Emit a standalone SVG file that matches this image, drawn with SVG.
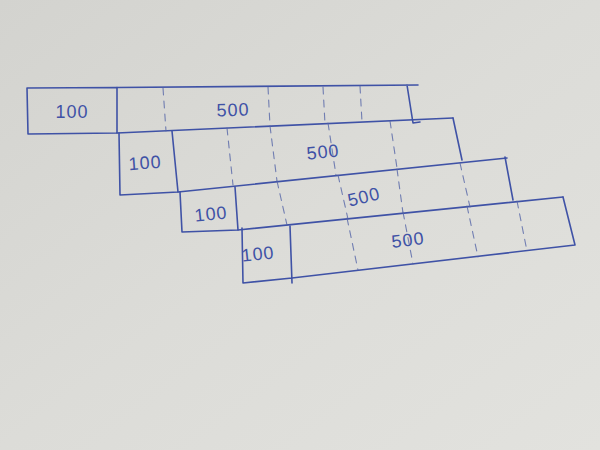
<svg xmlns="http://www.w3.org/2000/svg" width="600" height="450" viewBox="0 0 600 450">
  <defs>
    <linearGradient id="paper" x1="0" y1="0" x2="1" y2="1">
      <stop offset="0" stop-color="#d3d3cf"/>
      <stop offset="0.5" stop-color="#dcdcd8"/>
      <stop offset="1" stop-color="#e2e2de"/>
    </linearGradient>
    <style>
      .pen { fill: none; stroke: #3f52a6; stroke-width: 1.6; stroke-linecap: round; stroke-linejoin: round; }
      .dash { fill: none; stroke: #5565a8; stroke-width: 1.1; stroke-dasharray: 7 6; stroke-linecap: round; opacity: 0.8; }
      .lbl { font-family: "Liberation Sans", "DejaVu Sans", sans-serif; font-size: 18px; fill: #3f52a6; text-anchor: middle; dominant-baseline: central; letter-spacing: 1px; }
    </style>
  </defs>
  <rect width="600" height="450" fill="url(#paper)"/>

  <g id="row1">
    <g id="row1-100">
      <path class="pen" d="M27,88 L28,134 L117,133 M27,88 L117,87.5 L117,133"/>
      <text class="lbl" x="72" y="112">100</text>
    </g>
    <g id="row1-500">
      <path class="pen" d="M117,87.5 L418,85 M407,85 L413,123 L420,122"/>
      <path class="pen" d="M117,133 L453,118"/>
      <text class="lbl" x="233" y="110" transform="rotate(-2 233 110)">500</text>
    </g>
  </g>

  <g id="row2">
    <g id="row2-100">
      <path class="pen" d="M119,133 L120,195 L178,192 M172,131 L178,192"/>
      <text class="lbl" x="145" y="163" transform="rotate(-4 145 163)">100</text>
    </g>
    <g id="row2-500">
      <path class="pen" d="M453,118 L462,160"/>
      <path class="pen" d="M178,192 L507,158"/>
      <text class="lbl" x="323" y="152" transform="rotate(-6 323 152)">500</text>
    </g>
  </g>

  <g id="row3">
    <g id="row3-100">
      <path class="pen" d="M180,192 L182,232 L238,230 M235,187 L238,230"/>
      <text class="lbl" x="211" y="214" transform="rotate(-6 211 214)">100</text>
    </g>
    <g id="row3-500">
      <path class="pen" d="M505,157 L513,200"/>
      <path class="pen" d="M238,230 L563,197"/>
      <text class="lbl" x="364" y="197" transform="rotate(-14 364 197)">500</text>
    </g>
  </g>

  <g id="row4">
    <g id="row4-100">
      <path class="pen" d="M242,228 L243,283 L292,278 M290,226 L292,283"/>
      <text class="lbl" x="258" y="254" transform="rotate(-6 258 254)">100</text>
    </g>
    <g id="row4-500">
      <path class="pen" d="M563,197 L575,245 L292,278"/>
      <text class="lbl" x="408" y="240" transform="rotate(-7 408 240)">500</text>
    </g>
  </g>

  <g id="connectors">
    <path class="dash" d="M163,88 L166,131 M268,87 L270,126 M323,87 L325,124 M360,86 L362,122"/>
    <path class="dash" d="M227,128 L233,185 M270,126 L277,181 M328,123 L336,175 M390,121 L397,168"/>
    <path class="dash" d="M277,181 L287,225 M338,175 L348,219 M397,169 L403,213 M460,163 L470,207"/>
    <path class="dash" d="M347,218 L358,270 M403,212 L413,264 M467,206 L478,257 M517,201 L527,251"/>
  </g>
</svg>
